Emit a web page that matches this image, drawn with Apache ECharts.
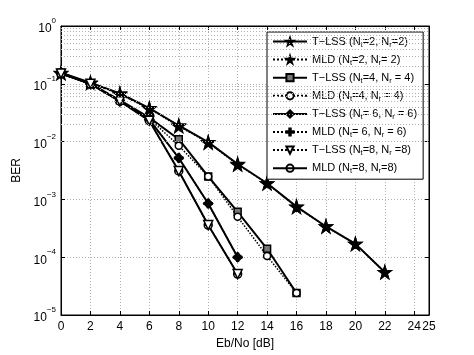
<!DOCTYPE html>
<html>
<head>
<meta charset="utf-8">
<script src="https://cdn.jsdelivr.net/npm/echarts@6/dist/echarts.min.js"></script>
<style>html,body{margin:0;padding:0;background:#fff}#c{width:474px;height:355px}</style>
</head>
<body>
<div id="c"></div>
<script>
// ---- data ----
const seriesNames = [
  'T−LSS (Nt=2, Nr=2)',
  'MLD (Nt=2, Nr= 2)',
  'T−LSS (Nt=4, Nr = 4)',
  'MLD (Nt=4, Nr = 4)',
  'T−LSS (Nt= 6, Nr = 6)',
  'MLD (Nt= 6, Nr = 6)',
  'T−LSS (Nt=8, Nr =8)',
  'MLD (Nt=8, Nr=8)'
];
const snr2 = [0, 2, 4, 6, 8, 10, 12, 14, 16, 18, 20, 22];
const tlss2 = [0.155, 0.105, 0.068, 0.038, 0.019, 0.0098, 0.0041, 0.0019, 0.00075, 0.00034, 0.00017, 0.000055];
const mld2  = [0.152, 0.103, 0.066, 0.037, 0.0185, 0.0096, 0.0040, 0.0019, 0.00074, 0.00034, 0.00017, 0.000055];
const snr4 = [0, 2, 4, 6, 8, 10, 12, 14, 16];
const tlss4 = [0.155, 0.1, 0.052, 0.026, 0.011, 0.0025, 0.00061, 0.00014, 0.000024];
const mld4  = [0.15, 0.1, 0.05, 0.025, 0.0085, 0.0025, 0.0005, 0.000105, 0.000024];
const snr6 = [0, 2, 4, 6, 8, 10, 12];
const tlss6 = [0.15, 0.1, 0.05, 0.024, 0.0052, 0.00085, 0.0001];
const mld6  = [0.15, 0.1, 0.05, 0.024, 0.0052, 0.00085, 0.0001];
const snr8 = [0, 2, 4, 6, 8, 10, 12];
const tlss8 = [0.15, 0.1, 0.05, 0.023, 0.0031, 0.00036, 0.000051];
const mld8  = [0.15, 0.1, 0.05, 0.023, 0.0031, 0.00036, 0.000051];
const minorGridY = [];
for (let e = -5; e < 0; e++) for (let m = 2; m <= 9; m++) minorGridY.push(m * Math.pow(10, e));

// ---- styles ----
const STAR = 'path://M50,0 L61,35 L98,35 L68,57 L79,91 L50,70 L21,91 L32,57 L2,35 L39,35 Z';
const PLUS = 'path://M8,0 L12,0 L12,8 L20,8 L20,12 L12,12 L12,20 L8,20 L8,12 L0,12 L0,8 L8,8 Z';
const CMINUS = 'path://M0,10 A10,10 0 1,1 20,10 A10,10 0 1,1 0,10 Z M0,10 L20,10';
const font = 'Liberation Sans, Arial, sans-serif';

function pairs(xs, ys) { return xs.map((x, i) => [x, ys[i]]); }

function mk(name, xs, ys, dash, symbol, size, fill, extra) {
  return Object.assign({
    name: name, type: 'line', data: pairs(xs, ys),
    symbol: symbol, symbolSize: size,
    lineStyle: { color: '#000', width: dash === 'solid' ? 2 : 1.5, type: dash },
    itemStyle: { color: fill, borderColor: '#000', borderWidth: 1.5 },
    z: 3, animation: false
  }, extra || {});
}

const series = [
  mk(seriesNames[1], snr2, mld2, 'dotted', STAR, 12, '#000'),
  mk(seriesNames[0], snr2, tlss2, 'solid', STAR, 12, '#000'),
  mk(seriesNames[2], snr4, tlss4, 'solid', 'rect', 7, '#777'),
  mk(seriesNames[3], snr4, mld4, 'dotted', 'circle', 7, '#fff'),
  mk(seriesNames[5], snr6, mld6, 'dotted', PLUS, 8, '#000'),
  mk(seriesNames[4], snr6, tlss6, 'solid', 'diamond', 9, '#000'),
  mk(seriesNames[7], snr8, mld8, 'solid', CMINUS, 8, '#fff'),
  mk(seriesNames[6], snr8, tlss8, 'dotted', 'triangle', 9, '#fff', { symbolRotate: 180 }),
  {
    type: 'line', data: [], silent: true, animation: false, z: 1,
    markLine: {
      silent: true, symbol: ['none', 'none'], label: { show: false }, animation: false,
      lineStyle: { color: '#b0b0b0', type: [1, 2], width: 1 },
      data: minorGridY.map(v => ({ yAxis: v }))
    }
  }
];

function legendFmt(name) {
  return '{a|' + name.replace(/N([tr])/g, 'N}{s|$1}{a|') + '}';
}
function yFmt(v) {
  const e = Math.round(Math.log10(v));
  return '{b|10}{e|' + (e === 0 ? '0' : '−' + (-e)) + '}';
}

const chart = echarts.init(document.getElementById('c'), null, { renderer: 'canvas' });
chart.setOption({
  animation: false,
  backgroundColor: '#fff',
  textStyle: { fontFamily: font },
  grid: { left: 61, right: 45, top: 26, bottom: 40, show: true, borderColor: '#000', borderWidth: 1, backgroundColor: 'transparent' },
  legend: {
    orient: 'vertical', left: 267, top: 32,
    backgroundColor: '#fff', borderColor: '#000', borderWidth: 1,
    padding: [4, 6, 4, 5], itemGap: 5.6, itemWidth: 34, itemHeight: 9,
    data: [0,1,2,3,4,5,6,7].map(i => seriesNames[i]),
    formatter: legendFmt,
    textStyle: {
      color: '#000', fontFamily: font,
      rich: {
        a: { fontSize: 11, fontFamily: font, color: '#000', lineHeight: 14, verticalAlign: 'middle' },
        s: { fontSize: 7.5, fontFamily: font, color: '#000', lineHeight: 6, verticalAlign: 'bottom' }
      }
    }
  },
  xAxis: [{
    type: 'value', min: 0, max: 25, interval: 2,
    name: 'Eb/No [dB]', nameLocation: 'middle', nameGap: 19,
    nameTextStyle: { fontSize: 12, color: '#000', fontFamily: font },
    axisLine: { show: true, onZero: false, lineStyle: { color: '#000' } },
    axisTick: { show: true, inside: true, length: 4, lineStyle: { color: '#000' } },
    axisLabel: { color: '#000', fontSize: 12, margin: 6, fontFamily: font, showMaxLabel: true },
    splitLine: { show: true, lineStyle: { color: '#b0b0b0', type: [1, 2] } }
  }, {
    type: 'value', min: 0, max: 25, interval: 2, position: 'top',
    axisLine: { show: true, onZero: false, lineStyle: { color: '#000' } },
    axisTick: { show: true, inside: true, length: 4, lineStyle: { color: '#000' } },
    axisLabel: { show: false }, splitLine: { show: false }
  }],
  yAxis: [{
    type: 'log', logBase: 10, min: 1e-5, max: 1,
    name: 'BER', nameLocation: 'middle', nameGap: 32,
    nameTextStyle: { fontSize: 12, color: '#000', fontFamily: font },
    axisLine: { show: true, onZero: false, lineStyle: { color: '#000' } },
    axisTick: { show: true, inside: true, length: 4, lineStyle: { color: '#000' } },
    axisLabel: {
      formatter: yFmt, margin: 5, color: '#000',
      rich: {
        b: { fontSize: 12, fontFamily: font, color: '#000', lineHeight: 18, verticalAlign: 'bottom' },
        e: { fontSize: 8, fontFamily: font, color: '#000', lineHeight: 8, verticalAlign: 'top' }
      }
    },
    splitLine: { show: true, lineStyle: { color: '#b0b0b0', type: [1, 2] } }
  }, {
    type: 'log', logBase: 10, min: 1e-5, max: 1, position: 'right',
    axisLine: { show: true, onZero: false, lineStyle: { color: '#000' } },
    axisTick: { show: true, inside: true, length: 4, lineStyle: { color: '#000' } },
    axisLabel: { show: false }, splitLine: { show: false }
  }],
  series: series
});
</script>
</body>
</html>
